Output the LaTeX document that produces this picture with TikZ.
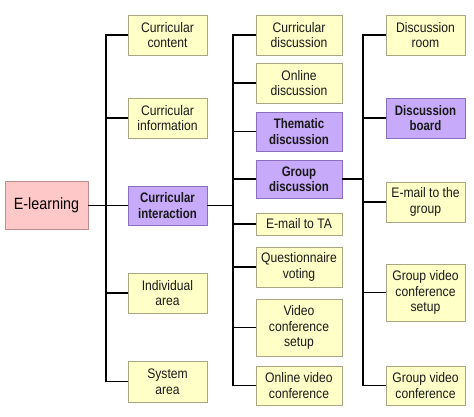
\documentclass[tikz,border=0pt]{standalone}
\usepackage{fontspec}
\setmainfont{Liberation Sans}[FakeStretch=0.88,BoldFeatures={FakeStretch=0.83}]
\definecolor{yfill}{RGB}{255,255,200}
\definecolor{ydraw}{RGB}{170,165,130}
\definecolor{pfill}{RGB}{200,170,250}
\definecolor{pdraw}{RGB}{140,110,190}
\definecolor{rfill}{RGB}{255,200,200}
\definecolor{rdraw}{RGB}{190,140,140}
\begin{document}
\begin{tikzpicture}[x=1pt,y=-1pt,
  box/.style={draw=ydraw,fill=yfill,line width=0.9pt,align=center,inner sep=0pt,
    font=\fontsize{13.8}{15.5}\selectfont,text=black!90},
  hbox/.style={box,draw=pdraw,fill=pfill,font=\fontsize{13.8}{15.5}\selectfont\bfseries},
  rootbox/.style={draw=rdraw,fill=rfill,line width=0.9pt,inner sep=0pt,
    font=\fontsize{16.3}{18}\selectfont,minimum width=83pt,minimum height=48pt},
  c1/.style={minimum width=79pt,minimum height=40pt},
  c2/.style={minimum width=86pt,minimum height=39pt},
  c3/.style={minimum width=79pt,minimum height=40pt},
  conn/.style={line width=1.4pt,black}]
\useasboundingbox (0,0) rectangle (474,416);
% root
\node[rootbox] (el) at (46.5,205.5) {E-learning};
% column 1
\node[box,c1] (cc) at (167.5,35) {Curricular\\content};
\node[box,c1] (ci) at (167.5,118) {Curricular\\information};
\node[hbox,c1,minimum height=39pt] (cint) at (167.5,205.5) {Curricular\\interaction};
\node[box,c1] (ia) at (167.5,293) {Individual\\area};
\node[box,c1,minimum height=41pt] (sa) at (167.5,381.5) {System\\area};
% column 2
\node[box,c2,minimum height=40pt] (cd) at (299,35) {Curricular\\discussion};
\node[box,c2,minimum height=40pt] (od) at (299,83) {Online\\discussion};
\node[hbox,c2] (td) at (299,131.5) {Thematic\\discussion};
\node[hbox,c2,minimum height=38pt] (gd) at (299,179) {Group\\discussion};
\node[box,c2,minimum height=22pt] (eta) at (299,224) {E-mail to TA};
\node[box,c2,minimum height=40pt] (qv) at (299,267) {Questionnaire\\voting};
\node[box,c2,minimum height=57pt] (vcs) at (299,327.5) {Video\\conference\\setup};
\node[box,c2] (ovc) at (299,385.5) {Online video\\conference};
% column 3
\node[box,c3] (dr) at (425.5,35) {Discussion\\room};
\node[hbox,c3] (db) at (425.5,118) {Discussion\\board};
\node[box,c3] (eg) at (425.5,202) {E-mail to the\\group};
\node[box,c3,minimum height=57pt] (gvcs) at (425.5,292.5) {Group video\\conference\\setup};
\node[box,c3,minimum height=39pt] (gvc) at (425.5,385.5) {Group video\\conference};
% trunks
\coordinate (t1) at (106,0);
\coordinate (t2) at (233,0);
\coordinate (t3) at (363,0);
\begin{scope}[conn]
\draw (el.east) -- (el.east -| t1);
\draw (cc.west) -- (cc.west -| t1) -- (sa.west -| t1) -- (sa.west);
\foreach \n in {ci,cint,ia} \draw (\n.west) -- (\n.west -| t1);
\draw (cint.east) -- (cint.east -| t2);
\draw (cd.west) -- (cd.west -| t2) -- (ovc.west -| t2) -- (ovc.west);
\foreach \n in {od,td,gd,eta,qv,vcs} \draw (\n.west) -- (\n.west -| t2);
\draw (gd.east) -- (gd.east -| t3);
\draw (dr.west) -- (dr.west -| t3) -- (gvc.west -| t3) -- (gvc.west);
\foreach \n in {db,eg,gvcs} \draw (\n.west) -- (\n.west -| t3);
\end{scope}
\end{tikzpicture}
\end{document}
